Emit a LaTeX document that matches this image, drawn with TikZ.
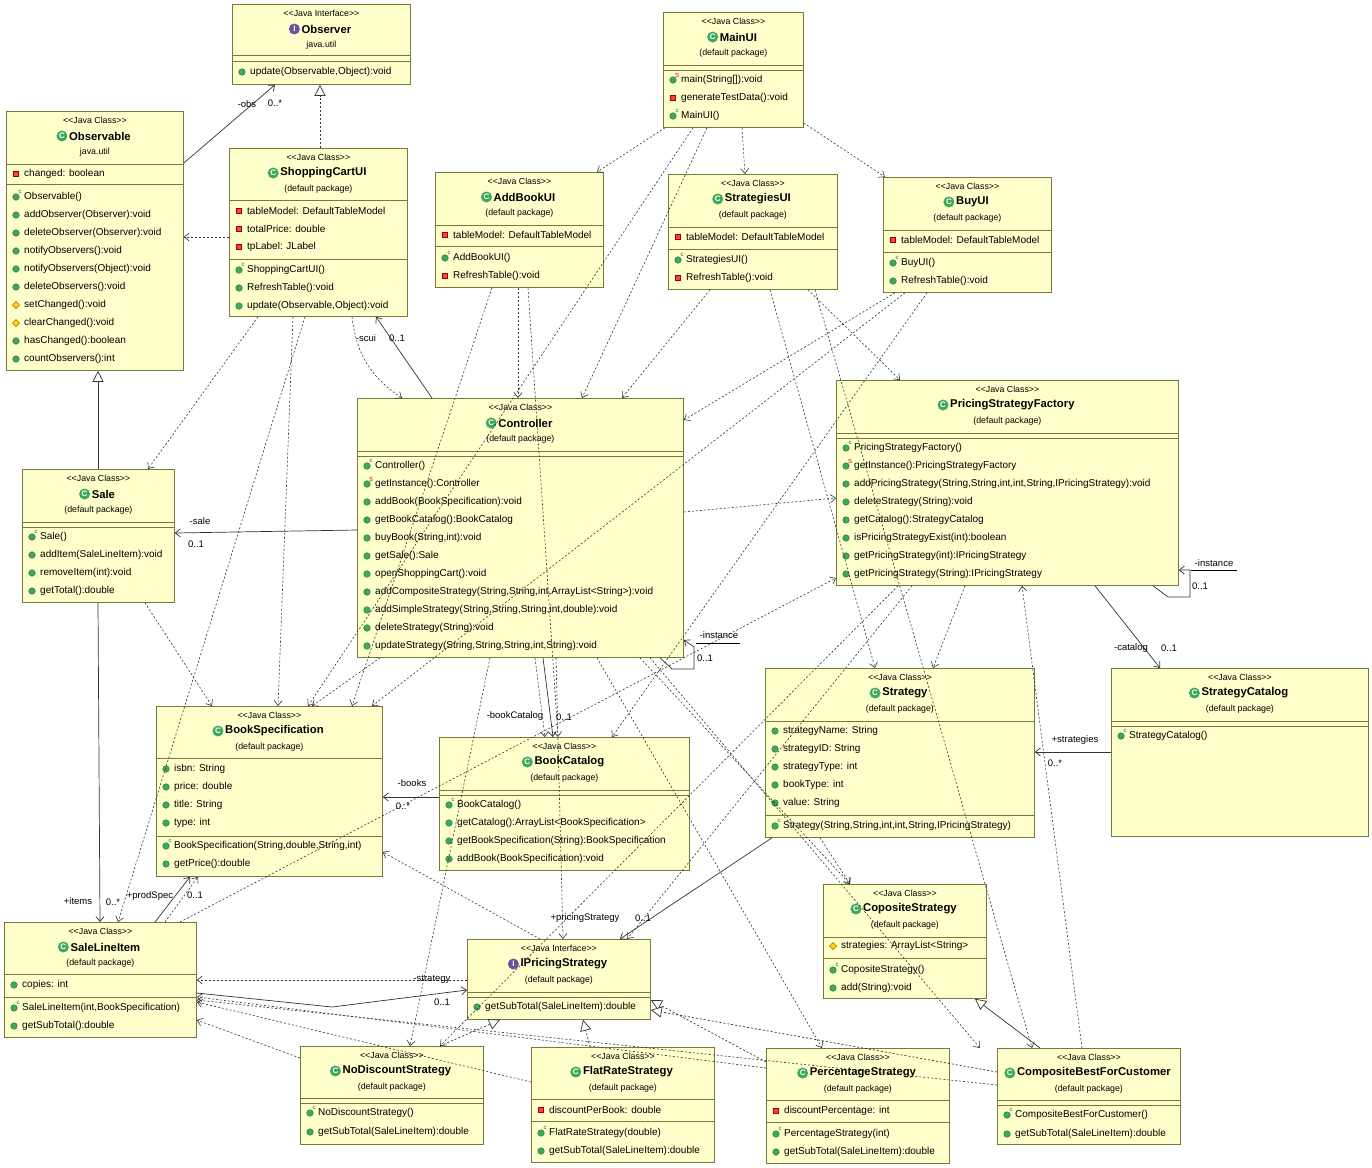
\documentclass[tikz,border=0pt]{standalone}
\usepackage{fontspec}
\setmainfont{Liberation Sans}
\usetikzlibrary{calc,arrows.meta}
\definecolor{cfill}{RGB}{255,255,204}
\definecolor{cline}{RGB}{120,120,60}
\definecolor{pubc}{RGB}{60,170,90}
\definecolor{pubd}{RGB}{30,110,50}
\definecolor{ific}{RGB}{110,80,160}
\tikzset{
 classbox/.style={draw=cline,fill=cfill,anchor=north west,inner sep=0pt,line width=0.8pt},
 mem/.style={anchor=west,inner sep=0pt,font=\fontsize{10}{11}\selectfont},
 hdr/.style={inner sep=0pt,font=\fontsize{8.8}{9}\selectfont},
 ttl/.style={inner sep=0pt,font=\fontsize{11.3}{12}\selectfont\bfseries},
 lab/.style={inner sep=0pt,font=\fontsize{9.5}{10}\selectfont},
 dep/.style={draw=black!80,dash pattern=on 2pt off 2pt,line width=0.6pt,-{Straight Barb[length=5pt,width=8pt]}},
 assoc/.style={draw=black!80,line width=0.7pt,-{Straight Barb[length=5pt,width=8pt]}},
 gen/.style={draw=black!80,line width=0.7pt,-{Triangle[open,length=11pt,width=11pt,fill=white]}},
 real/.style={gen,dash pattern=on 2pt off 2pt}
}
\newcommand\cls[9]{%
 \node[classbox,minimum width={(#4-#2)*1pt},minimum height={(#5-#3)*1pt}] (#1) at (#2,#3) {};
 \node[hdr] at ($(#1.north)+(0,9)$) {#6};
 \node[ttl] (#1T) at ($(#1.north)+(5,25)$) {#7};
 \ifx I#9
 \node[circle,fill=ific,inner sep=0pt,minimum size=11pt,text=white,font=\fontsize{8}{8}\selectfont\bfseries] at ($(#1T.west)+(-7,0)$) {I};
 \else
 \node[circle,fill=pubc,inner sep=0pt,minimum size=11pt,text=white,font=\fontsize{8}{8}\selectfont\bfseries] at ($(#1T.west)+(-7,0)$) {C};
 \fi
 \node[hdr] at ($(#1.north)+(0,41)$) {#8};}
\newcommand\sep[2]{\draw[cline,line width=0.7pt] (#1.west |- 0,#2) -- (#1.east |- 0,#2);}
\newcommand\mtext[3]{\node[mem] at ($(#1.west |- 0,#2)+(18,0)$) {#3};}
\newcommand\pubic[2]{\filldraw[fill=pubc,draw=pubd,line width=0.4pt] ($(#1.west |- 0,#2)+(10,0)$) circle (3.3);}
\newcommand\pub[3]{\pubic{#1}{#2}\mtext{#1}{#2}{#3}}
\newcommand\ctor[3]{\pubic{#1}{#2}\node[inner sep=0pt,text=pubd,font=\fontsize{6}{6}\selectfont] at ($(#1.west |- 0,#2)+(14,-5)$) {c};\mtext{#1}{#2}{#3}}
\newcommand\stat[3]{\pubic{#1}{#2}\node[inner sep=0pt,text=red!80!black,font=\fontsize{6}{6}\selectfont] at ($(#1.west |- 0,#2)+(14,-5)$) {S};\mtext{#1}{#2}{#3}}
\newcommand\pri[3]{\filldraw[fill=red!75,draw=red!60!black,line width=0.4pt] ($(#1.west |- 0,#2)+(7.5,-2.5)$) rectangle ++(5,5);\mtext{#1}{#2}{#3}}
\newcommand\pro[3]{\filldraw[fill=yellow!80!orange,draw=orange!70!black,line width=0.4pt] ($(#1.west |- 0,#2)+(6.5,0)$) -- ++(3.5,3.5) -- ++(3.5,-3.5) -- ++(-3.5,-3.5) -- cycle;\mtext{#1}{#2}{#3}}
\newcommand\jc{<{}<Java Class>{}>}
\begin{document}
\begin{tikzpicture}[x=1pt,y=-1pt]
\useasboundingbox[fill=white] (0,0) rectangle (1372,1167);
% Observer
\cls{Observer}{232}{4}{410}{84}{<{}<Java Interface>{}>}{Observer}{java.util}{I}
\sep{Observer}{55}\sep{Observer}{61}
\pub{Observer}{72}{update(Observable,Object):void}
% Observable
\cls{Observable}{6}{111}{183}{370}{\jc}{Observable}{java.util}{C}
\sep{Observable}{164}
\pri{Observable}{174}{changed: boolean}
\sep{Observable}{184}
\ctor{Observable}{197}{Observable()}
\pub{Observable}{215}{addObserver(Observer):void}
\pub{Observable}{233}{deleteObserver(Observer):void}
\pub{Observable}{251}{notifyObservers():void}
\pub{Observable}{269}{notifyObservers(Object):void}
\pub{Observable}{287}{deleteObservers():void}
\pro{Observable}{305}{setChanged():void}
\pro{Observable}{323}{clearChanged():void}
\pub{Observable}{341}{hasChanged():boolean}
\pub{Observable}{359}{countObservers():int}
% MainUI
\cls{MainUI}{663}{12}{803}{127}{\jc}{MainUI}{(default package)}{C}
\sep{MainUI}{65}\sep{MainUI}{70}
\stat{MainUI}{80}{main(String[]):void}
\pri{MainUI}{98}{generateTestData():void}
\ctor{MainUI}{116}{MainUI()}
% ShoppingCartUI
\cls{ShoppingCartUI}{229}{148}{407}{316}{\jc}{ShoppingCartUI}{(default package)}{C}
\sep{ShoppingCartUI}{200}
\pri{ShoppingCartUI}{211}{tableModel: DefaultTableModel}
\pri{ShoppingCartUI}{229}{totalPrice: double}
\pri{ShoppingCartUI}{247}{tpLabel: JLabel}
\sep{ShoppingCartUI}{259}
\ctor{ShoppingCartUI}{270}{ShoppingCartUI()}
\pub{ShoppingCartUI}{288}{RefreshTable():void}
\pub{ShoppingCartUI}{306}{update(Observable,Object):void}
% AddBookUI
\cls{AddBookUI}{435}{172}{603}{287}{\jc}{AddBookUI}{(default package)}{C}
\sep{AddBookUI}{225}
\pri{AddBookUI}{235}{tableModel: DefaultTableModel}
\sep{AddBookUI}{246}
\ctor{AddBookUI}{258}{AddBookUI()}
\pri{AddBookUI}{276}{RefreshTable():void}
% StrategiesUI
\cls{StrategiesUI}{668}{174}{837}{289}{\jc}{StrategiesUI}{(default package)}{C}
\sep{StrategiesUI}{227}
\pri{StrategiesUI}{237}{tableModel: DefaultTableModel}
\sep{StrategiesUI}{249}
\ctor{StrategiesUI}{260}{StrategiesUI()}
\pri{StrategiesUI}{278}{RefreshTable():void}
% BuyUI
\cls{BuyUI}{883}{177}{1051}{292}{\jc}{BuyUI}{(default package)}{C}
\sep{BuyUI}{230}
\pri{BuyUI}{240}{tableModel: DefaultTableModel}
\sep{BuyUI}{252}
\ctor{BuyUI}{263}{BuyUI()}
\pub{BuyUI}{281}{RefreshTable():void}
% Controller
\cls{Controller}{357}{398}{683}{657}{\jc}{Controller}{(default package)}{C}
\sep{Controller}{451}\sep{Controller}{456}
\ctor{Controller}{466}{Controller()}
\stat{Controller}{484}{getInstance():Controller}
\pub{Controller}{502}{addBook(BookSpecification):void}
\pub{Controller}{520}{getBookCatalog():BookCatalog}
\pub{Controller}{538}{buyBook(String,int):void}
\pub{Controller}{556}{getSale():Sale}
\pub{Controller}{574}{openShoppingCart():void}
\pub{Controller}{592}{addCompositeStrategy(String,String,int,ArrayList<String>):void}
\pub{Controller}{610}{addSimpleStrategy(String,String,String,int,double):void}
\pub{Controller}{628}{deleteStrategy(String):void}
\pub{Controller}{646}{updateStrategy(String,String,String,int,String):void}
% PricingStrategyFactory
\cls{PSF}{836}{380}{1178}{585}{\jc}{PricingStrategyFactory}{(default package)}{C}
\sep{PSF}{433}\sep{PSF}{438}
\ctor{PSF}{448}{PricingStrategyFactory()}
\stat{PSF}{466}{getInstance():PricingStrategyFactory}
\pub{PSF}{484}{addPricingStrategy(String,String,int,int,String,IPricingStrategy):void}
\pub{PSF}{502}{deleteStrategy(String):void}
\pub{PSF}{520}{getCatalog():StrategyCatalog}
\pub{PSF}{538}{isPricingStrategyExist(int):boolean}
\pub{PSF}{556}{getPricingStrategy(int):IPricingStrategy}
\pub{PSF}{574}{getPricingStrategy(String):IPricingStrategy}
% Sale
\cls{Sale}{22}{469}{174}{602}{\jc}{Sale}{(default package)}{C}
\sep{Sale}{522}\sep{Sale}{527}
\ctor{Sale}{537}{Sale()}
\pub{Sale}{555}{addItem(SaleLineItem):void}
\pub{Sale}{573}{removeItem(int):void}
\pub{Sale}{591}{getTotal():double}
% BookSpecification
\cls{BS}{156}{706}{382}{876}{\jc}{BookSpecification}{(default package)}{C}
\sep{BS}{758}
\pub{BS}{769}{isbn: String}
\pub{BS}{787}{price: double}
\pub{BS}{805}{title: String}
\pub{BS}{823}{type: int}
\sep{BS}{836}
\ctor{BS}{846}{BookSpecification(String,double,String,int)}
\pub{BS}{864}{getPrice():double}
% BookCatalog
\cls{BC}{439}{737}{689}{870}{\jc}{BookCatalog}{(default package)}{C}
\sep{BC}{790}\sep{BC}{795}
\ctor{BC}{805}{BookCatalog()}
\pub{BC}{823}{getCatalog():ArrayList<BookSpecification>}
\pub{BC}{841}{getBookSpecification(String):BookSpecification}
\pub{BC}{859}{addBook(BookSpecification):void}
% Strategy
\cls{Strategy}{765}{668}{1034}{837}{\jc}{Strategy}{(default package)}{C}
\sep{Strategy}{721}
\pub{Strategy}{731}{strategyName: String}
\pub{Strategy}{749}{strategyID: String}
\pub{Strategy}{767}{strategyType: int}
\pub{Strategy}{785}{bookType: int}
\pub{Strategy}{803}{value: String}
\sep{Strategy}{815}
\ctor{Strategy}{826}{Strategy(String,String,int,int,String,IPricingStrategy)}
% StrategyCatalog
\cls{SC}{1111}{668}{1368}{836}{\jc}{StrategyCatalog}{(default package)}{C}
\sep{SC}{721}\sep{SC}{726}
\ctor{SC}{736}{StrategyCatalog()}
% SaleLineItem
\cls{SLI}{4}{922}{196}{1037}{\jc}{SaleLineItem}{(default package)}{C}
\sep{SLI}{974}
\pub{SLI}{985}{copies: int}
\sep{SLI}{997}
\ctor{SLI}{1008}{SaleLineItem(int,BookSpecification)}
\pub{SLI}{1026}{getSubTotal():double}
% IPricingStrategy
\cls{IPS}{467}{939}{650}{1019}{<{}<Java Interface>{}>}{IPricingStrategy}{(default package)}{I}
\sep{IPS}{992}\sep{IPS}{997}
\pub{IPS}{1007}{getSubTotal(SaleLineItem):double}
% CopositeStrategy
\cls{CS}{823}{884}{986}{998}{\jc}{CopositeStrategy}{(default package)}{C}
\sep{CS}{937}
\pro{CS}{946}{strategies: ArrayList<String>}
\sep{CS}{958}
\ctor{CS}{970}{CopositeStrategy()}
\pub{CS}{988}{add(String):void}
% NoDiscountStrategy
\cls{NDS}{300}{1046}{483}{1144}{\jc}{NoDiscountStrategy}{(default package)}{C}
\sep{NDS}{1098}\sep{NDS}{1103}
\ctor{NDS}{1113}{NoDiscountStrategy()}
\pub{NDS}{1132}{getSubTotal(SaleLineItem):double}
% FlatRateStrategy
\cls{FRS}{531}{1047}{714}{1162}{\jc}{FlatRateStrategy}{(default package)}{C}
\sep{FRS}{1099}
\pri{FRS}{1110}{discountPerBook: double}
\sep{FRS}{1121}
\ctor{FRS}{1133}{FlatRateStrategy(double)}
\pub{FRS}{1151}{getSubTotal(SaleLineItem):double}
% PercentageStrategy
\cls{PS}{766}{1048}{949}{1163}{\jc}{PercentageStrategy}{(default package)}{C}
\sep{PS}{1100}
\pri{PS}{1111}{discountPercentage: int}
\sep{PS}{1122}
\ctor{PS}{1134}{PercentageStrategy(int)}
\pub{PS}{1152}{getSubTotal(SaleLineItem):double}
% CompositeBestForCustomer
\cls{CBFC}{997}{1048}{1180}{1144}{\jc}{CompositeBestForCustomer}{(default package)}{C}
\sep{CBFC}{1100}\sep{CBFC}{1105}
\ctor{CBFC}{1115}{CompositeBestForCustomer()}
\pub{CBFC}{1134}{getSubTotal(SaleLineItem):double}

% ---------- connectors ----------
\draw[assoc] (Observable.east |- 0,163) -- (275,0 |- Observer.south);
\node[lab] at (247,104) {-obs}; \node[lab] at (275,103) {0..*};
\draw[real] (320,0 |- ShoppingCartUI.north) -- (320,0 |- Observer.south);
\draw[gen] (98,0 |- Sale.north) -- (98,0 |- Observable.south);
\draw[dep] (ShoppingCartUI.west |- 0,237) -- (Observable.east |- 0,237);
\draw[dep] (258,0 |- ShoppingCartUI.south) -- (148,0 |- Sale.north);
\draw[dep] (293,0 |- ShoppingCartUI.south) -- (278,0 |- BS.north);
\draw[dep] (305,0 |- ShoppingCartUI.south) -- (118,0 |- SLI.north);
\draw[dep] (352,0 |- ShoppingCartUI.south) to[bend right=25] (402,0 |- Controller.north);
\draw[assoc] (432,0 |- Controller.north) -- (376,0 |- ShoppingCartUI.south);
\node[lab] at (366,338) {-scui}; \node[lab] at (397,338) {0..1};
% MainUI
\draw[dep] (665,0 |- MainUI.south) -- (597,0 |- AddBookUI.north);
\draw[dep] (742,0 |- MainUI.south) -- (745,0 |- StrategiesUI.north);
\draw[dep] (MainUI.east |- 0,123) -- (885,0 |- BuyUI.north);
\draw[dep] (707,0 |- MainUI.south) -- (582,0 |- Controller.north);
\draw[dep] (693,0 |- MainUI.south) -- (308,0 |- BS.north);
% AddBookUI
\draw[dep] (518,0 |- AddBookUI.south) -- (518,0 |- Controller.north);
\draw[dep] (528,0 |- AddBookUI.south) -- (558,0 |- BC.north);
\draw[dep] (492,0 |- AddBookUI.south) -- (352,0 |- BS.north);
% StrategiesUI
\draw[dep] (710,0 |- StrategiesUI.south) -- (622,0 |- Controller.north);
\draw[dep] (770,0 |- StrategiesUI.south) -- (875,0 |- Strategy.north);
\draw[dep] (808,0 |- StrategiesUI.south) -- (900,0 |- PSF.north);
\draw[dep] (815,0 |- StrategiesUI.south) -- (1032,0 |- CBFC.north);
% BuyUI
\draw[dep] (895,0 |- BuyUI.south) -- (Controller.east |- 0,420);
\draw[dep] (927,0 |- BuyUI.south) -- (612,0 |- BC.north);
\draw[dep] (905,0 |- BuyUI.south) -- (372,0 |- BS.north);
% Controller
\draw[dep] (Controller.east |- 0,512) -- (PSF.west |- 0,498);
\draw[assoc] (660,0 |- Controller.south) -- (672,669) -- (694,669) -- (694,647) -- (Controller.east |- 0,640);
\draw[line width=0.6pt] (696,643) -- (740,643);
\node[lab] at (719,635) {-instance}; \node[lab] at (705,658) {0..1};
\draw[assoc] (543,0 |- Controller.south) -- (553,0 |- BC.north);
\draw[dep] (535,0 |- Controller.south) -- (545,0 |- BC.north);
\node[lab] at (515,716) {-bookCatalog}; \node[lab] at (564,717) {0..1};
\draw[assoc] (Controller.west |- 0,530) -- (Sale.east |- 0,533);
\node[lab] at (200,521) {-sale}; \node[lab] at (196,544) {0..1};
\draw[dep] (380,0 |- Controller.south) -- (312,0 |- BS.north);
\draw[dep] (490,0 |- Controller.south) -- (410,0 |- NDS.north);
\draw[dep] (597,0 |- Controller.south) -- (822,0 |- PS.north);
\draw[dep] (640,0 |- Controller.south) -- (850,0 |- CS.north);
\draw[dep] (650,0 |- Controller.south) -- (980,0 |- CBFC.north);
\draw[dep] (556,0 |- Controller.south) -- (563,0 |- IPS.north);
% PSF
\draw[dep] (965,0 |- PSF.south) -- (933,0 |- Strategy.north);
\draw[assoc] (1095,0 |- PSF.south) -- (1160,0 |- SC.north);
\node[lab] at (1131,648) {-catalog}; \node[lab] at (1169,648) {0..1};
\draw[assoc] (1153,0 |- PSF.south) -- (1168,597) -- (1190,597) -- (1190,570) -- (PSF.east |- 0,570);
\draw[line width=0.6pt] (1191,570) -- (1237,570);
\node[lab] at (1214,563) {-instance}; \node[lab] at (1200,586) {0..1};
\draw[dep] (912,0 |- PSF.south) -- (627,0 |- IPS.north);
\draw[dep] (898,0 |- PSF.south) -- (440,0 |- NDS.north);
\draw[dep] (180,0 |- SLI.north) -- (PSF.west |- 0,578);
\draw[dep] (1082,0 |- CBFC.north) -- (1022,0 |- PSF.south);
% StrategyCatalog / Strategy
\draw[assoc] (SC.west |- 0,752) -- (Strategy.east |- 0,752);
\node[lab] at (1075,740) {+strategies}; \node[lab] at (1055,763) {0..*};
\draw[assoc] (772,0 |- Strategy.south) -- (620,0 |- IPS.north);
\node[lab] at (585,918) {+pricingStrategy}; \node[lab] at (643,918) {0..1};
\draw[dep] (820,0 |- Strategy.south) -- (850,0 |- CS.north);
% BookCatalog / BookSpecification / Sale / SaleLineItem
\draw[assoc] (BC.west |- 0,797) -- (BS.east |- 0,797);
\node[lab] at (412,783) {-books}; \node[lab] at (403,806) {0..*};
\draw[assoc] (155,0 |- SLI.north) -- (190,0 |- BS.south);
\draw[dep] (165,0 |- SLI.north) -- (198,0 |- BS.south);
\node[lab] at (150,896) {+prodSpec}; \node[lab] at (195,895) {0..1};
\draw[assoc] (98,0 |- Sale.south) -- (100,0 |- SLI.north);
\node[lab] at (78,901) {+items}; \node[lab] at (113,902) {0..*};
\draw[dep] (145,0 |- Sale.south) -- (212,0 |- BS.north);
\draw[dep] (540,0 |- IPS.north) -- (BS.east |- 0,852);
% IPricingStrategy
\draw[dep] (IPS.west |- 0,980) -- (SLI.east |- 0,980);
\draw[assoc] (SLI.east |- 0,993) -- (332,1007) -- (IPS.west |- 0,990);
\node[lab] at (432,979) {-strategy}; \node[lab] at (442,1002) {0..1};
\draw[real] (440,0 |- NDS.north) -- (500,0 |- IPS.south);
\draw[real] (590,0 |- FRS.north) -- (583,0 |- IPS.south);
\draw[real] (PS.west |- 0,1062) -- (IPS.east |- 0,1000);
\draw[real] (CBFC.west |- 0,1072) -- (IPS.east |- 0,1010);
% deps to SaleLineItem
\draw[dep] (NDS.west |- 0,1058) -- (SLI.east |- 0,1020);
\draw[dep] (FRS.west |- 0,1082) -- (SLI.east |- 0,1002);
\draw[dep] (PS.west |- 0,1068) -- (SLI.east |- 0,997);
\draw[dep] (CBFC.west |- 0,1085) -- (SLI.east |- 0,1000);
% CompositeBest
\draw[gen] (1040,0 |- CBFC.north) -- (975,0 |- CS.south);
\end{tikzpicture}
\end{document}
